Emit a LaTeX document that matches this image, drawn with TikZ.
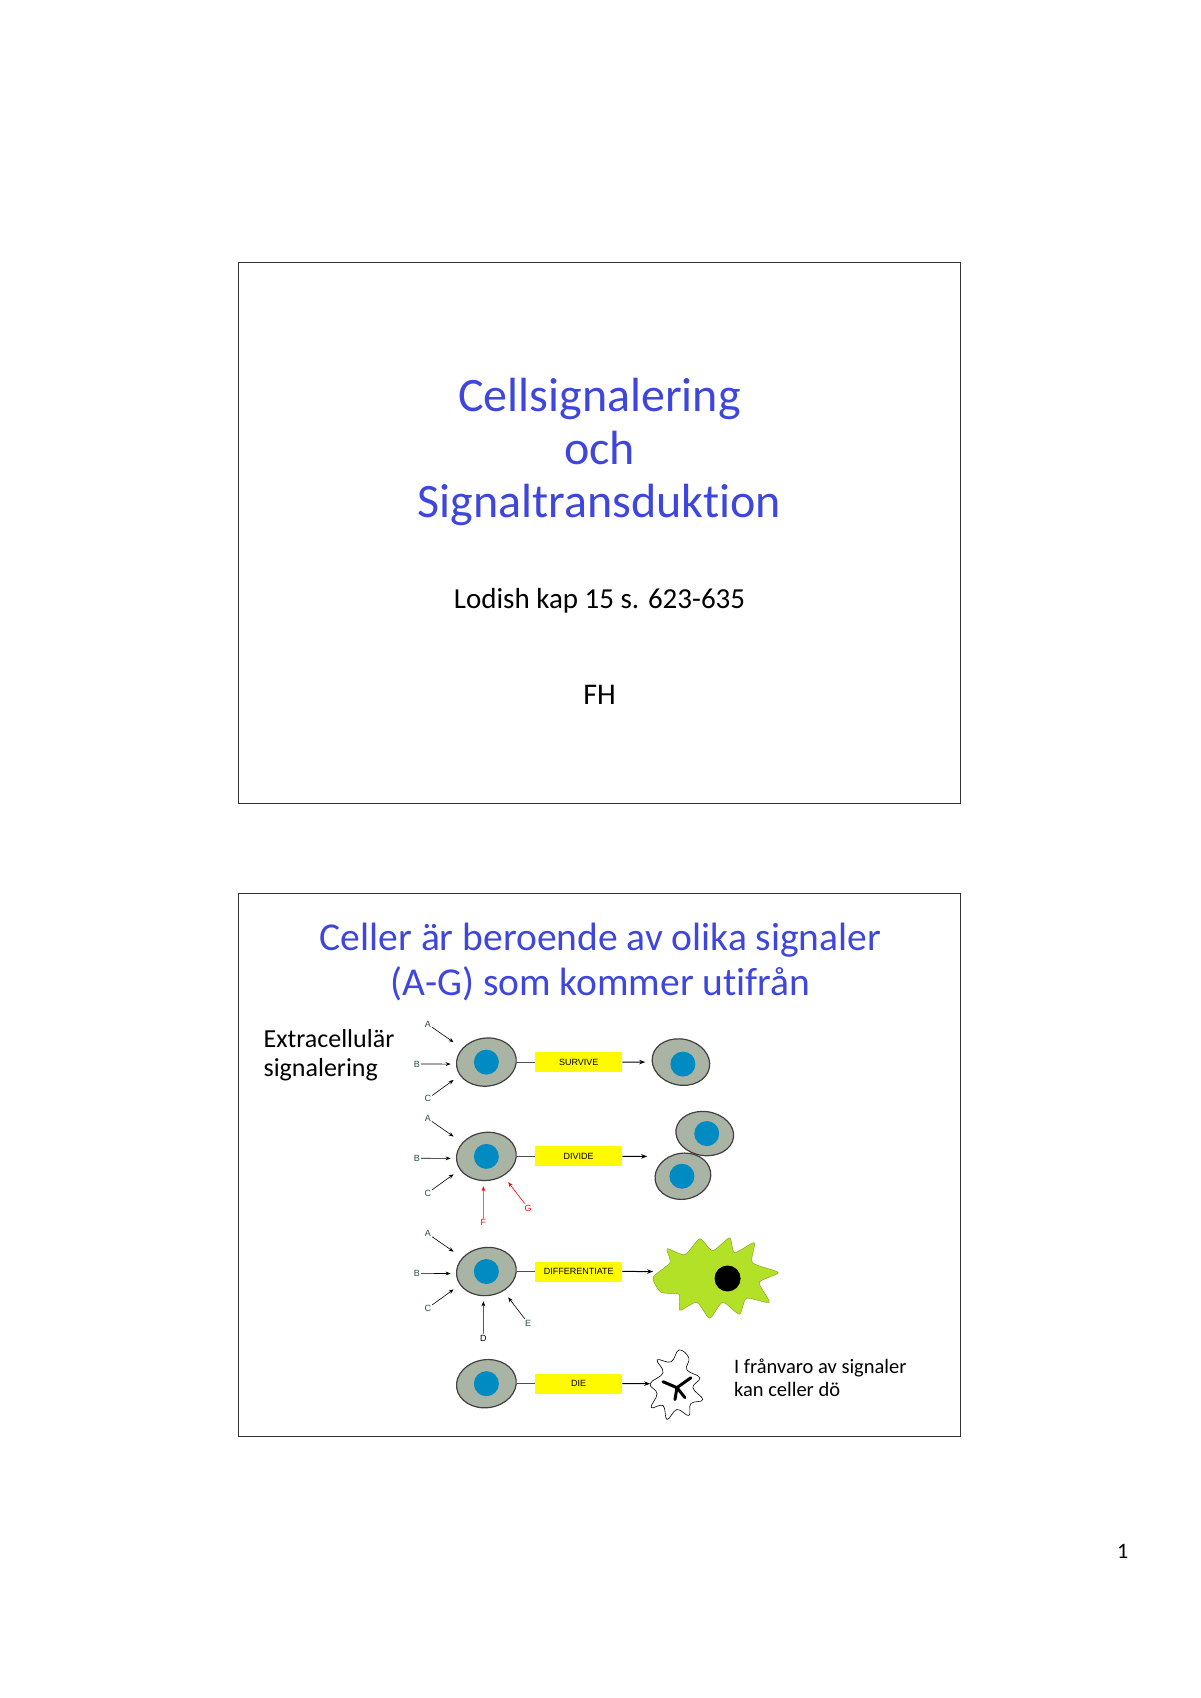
\documentclass[tikz,border=0pt]{standalone}
\usepackage{fontspec}
\setmainfont[Ligatures=NoCommon]{Carlito}
\newfontfamily\labfont{Liberation Sans}
\definecolor{ttl}{RGB}{62,70,220}
\definecolor{cellg}{RGB}{170,180,165}
\definecolor{nuc}{RGB}{0,140,195}
\definecolor{ylw}{RGB}{255,250,0}
\definecolor{grn}{RGB}{178,225,40}
\definecolor{dkg}{RGB}{40,80,60}
\tikzset{x=1pt,y=-1pt,
 cellbody/.style={draw=black!75,line width=1.2pt,fill=cellg,ellipse,minimum width=60pt,minimum height=48pt,inner sep=0},
 nucl/.style={circle,fill=nuc,minimum size=25pt,inner sep=0},
 ybox/.style={fill=ylw,minimum width=87pt,minimum height=20pt,inner sep=0,font=\labfont\fontsize{9}{9}\selectfont},
 sig/.style={-{Stealth[length=5pt]},line width=0.6pt},
 lab/.style={font=\labfont\fontsize{9}{9}\selectfont,text=dkg,inner sep=1pt},
 conn/.style={line width=1pt,black!70},
 arr/.style={-{Stealth[length=6pt]},line width=1pt}}
\usetikzlibrary{shapes.geometric,arrows.meta}
\begin{document}
\begin{tikzpicture}
\useasboundingbox (0,0) rectangle (1200,1698);
\fill[white] (0,0) rectangle (1200,1698);
\begin{scope}[scale=0.9926]
% slide 1
\draw[line width=1pt,black!80] (240,264) rectangle (968,809);
\node[text=ttl,font=\fontsize{48}{53}\selectfont,align=center] (t1) at (604,455) {Cellsignalering\\och\\Signaltransduktion};
\node[font=\fontsize{29}{29}\selectfont] (ref) at (604,605) {Lodish kap 15 s. 623-635};
\node[font=\fontsize{30}{30}\selectfont] (fh) at (604,700) {FH};
% slide 2
\draw[line width=1pt,black!80] (240,900) rectangle (968,1447);
\node[text=ttl,font=\fontsize{39.5}{45}\selectfont,align=center] (t2) at (605,969) {Celler är beroende av olika signaler\\(A-G) som kommer utifrån};
\node[font=\fontsize{26}{29}\selectfont,align=left,anchor=north west] (ext) at (262,1034) {Extracellulär\\signalering};
% rows
\foreach \r/\y/\txt in {1/1070/SURVIVE,2/1165/DIVIDE,3/1281/DIFFERENTIATE,4/1394/DIE}{
  \node[cellbody,rotate=8] (c\r) at (490,\y) {};
  \node[nucl] (n\r) at (490,\y) {};
  \node[ybox] (b\r) at (583,\y) {\txt};
  \draw[conn] ([xshift=31pt]c\r.center) -- (b\r.west);
}
% signals rows 1-3
\foreach \r/\y in {1/1070,2/1165,3/1281}{
  \coordinate (a\r) at (431,\y-38); \coordinate (bb\r) at (420,\y+2); \coordinate (cc\r) at (431,\y+37);
  \node[lab] (la\r) at (a\r) {A};
  \node[lab] (lb\r) at (bb\r) {B};
  \node[lab] (lc\r) at (cc\r) {C};
  \draw[sig] (la\r) -- (457,\y-20);
  \draw[sig] (lb\r) -- (454,\y+2);
  \draw[sig] (lc\r) -- (457,\y+18);
}
% red F G
\node[lab,text=red] (lf) at (487,1232) {F};
\node[lab,text=red] (lg) at (532,1217) {G};
\draw[sig,red] (lf) -- (487,1195);
\draw[sig,red] (lg) -- (512,1191);
% D E
\node[lab,text=black] (ld) at (487,1348) {D};
\node[lab,text=dkg] (le) at (532,1333) {E};
\draw[sig] (ld) -- (487,1311);
\draw[sig] (le) -- (512,1307);
% targets
\node[cellbody,rotate=-12,minimum width=58pt,minimum height=46pt] (s1) at (686,1070) {};
\node[nucl] (sn1) at (688,1072) {};
\draw[arr] (b1.east) -- (650,1070);
\node[cellbody,rotate=-8,minimum width=58pt,minimum height=44pt] (d1) at (710,1142) {};
\node[nucl] (dn1) at (712,1142) {};
\node[cellbody,rotate=10,minimum width=56pt,minimum height=46pt] (d2) at (688,1185) {};
\node[nucl] (dn2) at (687,1185) {};
\draw[arr] (b2.east) -- (652,1165);
\fill[grn,draw=grn!70!black,line width=0.4pt] plot[smooth cycle,tension=0.4] coordinates{
 (658,1287) (675,1272) (672,1258) (690,1264) (705,1248) (718,1260) (735,1247) (740,1262) (760,1252) (758,1272) (784,1282)
 (765,1292) (775,1312) (752,1308) (745,1324) (728,1312) (715,1328) (702,1312) (685,1320) (684,1304) (666,1302)};
\node[circle,fill=black,minimum size=26pt,inner sep=0] (gn) at (733,1288) {};
\draw[arr] (b3.east) -- (658,1281);
\draw[line width=0.6pt,fill=white] plot[smooth cycle,tension=0.7] coordinates{
 (655,1394) (668,1383) (662,1370) (676,1372) (684,1360) (694,1368) (692,1380) (705,1388) (698,1398) (708,1410)
 (696,1414) (694,1426) (682,1420) (672,1430) (668,1416) (656,1418) (662,1404)};
\draw[line width=3pt,line cap=round] (668,1392) -- (682,1398) -- (696,1388) (682,1398) -- (680,1410) (682,1398) -- (690,1408);
\draw[arr] (b4.east) -- (655,1394);
\node[font=\fontsize{20.5}{23}\selectfont,align=left,anchor=west] (dtxt) at (736,1388) {I frånvaro av signaler\\kan celler dö};
\node[font=\fontsize{22}{22}\selectfont\rmfamily] (pg) at (1131,1563) {1};
\end{scope}
\end{tikzpicture}
\end{document}
